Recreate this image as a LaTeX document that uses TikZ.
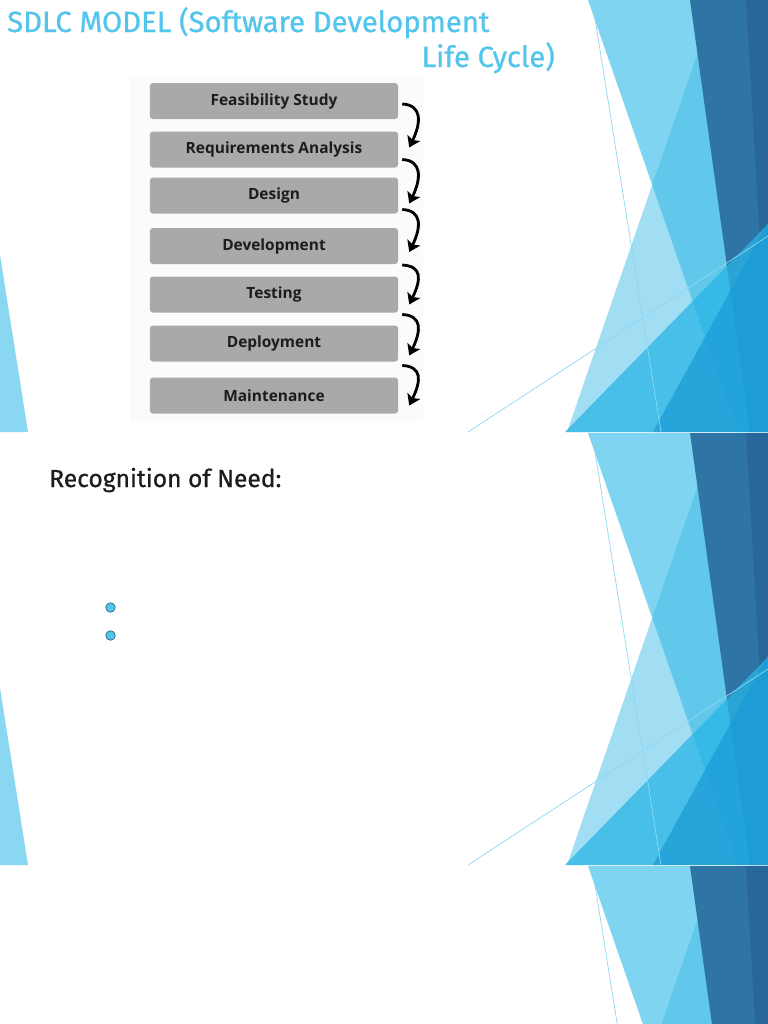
\documentclass[tikz,border=0pt]{standalone}
\usepackage{fontspec}
\setmainfont{Open Sans}
\newfontfamily\headfont[FakeBold=0.7]{Fira Sans}
\usetikzlibrary{arrows.meta}
\definecolor{titleblue}{HTML}{52C5EC}
\definecolor{boxgray}{HTML}{A9A9A9}
\definecolor{inkdark}{HTML}{1C1C1C}
\definecolor{leftblue}{HTML}{8AD7F2}
\definecolor{lightblue}{HTML}{7FD4F1}
\definecolor{paleblue}{HTML}{45BDE8}
\definecolor{darkblue}{HTML}{2E75A6}
\definecolor{deepblue}{HTML}{29679A}
\definecolor{brightblue}{HTML}{29B5E6}
\definecolor{seablue}{HTML}{1A9AD6}
\definecolor{lineblue}{HTML}{8FD8F2}
\definecolor{dotedge}{HTML}{1F4E6E}
\begin{document}
\begin{tikzpicture}[x=0.03cm,y=-0.03cm,
  stage/.style={fill=boxgray,rounded corners=2.5pt,minimum width=7.44cm,
    minimum height=1.08cm,inner sep=0pt,text=inkdark,
    font=\bfseries\fontsize{13.2}{15}\selectfont},
  flow/.style={line width=2.4pt,-{Stealth[length=9pt,width=12pt,inset=2pt]}},
  dot/.style={circle,draw=dotedge,fill=titleblue,line width=0.5pt,
    minimum size=0.285cm,inner sep=0pt},
  heading/.style={inner sep=0pt,font=\headfont\fontsize{#1}{#1}\selectfont},
  thinline/.style={lineblue,line width=0.6pt}]
% pixel grid 768 x 1024, y downwards
\def\facets#1{%
 \begin{scope}[shift={(0,#1)}]
 \clip (0,0) rectangle (768,432);
 \fill[leftblue] (0,255) -- (28,432) -- (0,432) -- cycle;
 \fill[lightblue] (588,0) -- (700,0) -- (750,432) -- (738,432) -- cycle;
 \fill[paleblue,opacity=.5] (716,0) -- (567,432) -- (768,432) -- cycle;
 \fill[darkblue] (690,0) -- (768,0) -- (768,432) -- (750,432) -- cycle;
 \fill[deepblue] (746,0) -- (768,0) -- (768,260) -- (761,260) -- cycle;
 \fill[brightblue,opacity=.75] (565,432) -- (768,224) -- (768,432) -- cycle;
 \fill[seablue,opacity=.7] (653,432) -- (768,222) -- (768,432) -- cycle;
 \draw[thinline] (592,0) -- (661,432);
 \draw[thinline] (468,432) -- (768,236);
 \end{scope}}
\fill[white] (0,0) rectangle (768,1024);
\useasboundingbox (0,0) rectangle (768,1024);
\facets{0}
\facets{433}
\facets{866}
\node[heading=25,anchor=base west,text=titleblue]
 (title1) at (7,32) {SDLC MODEL (Software Development};
\node[heading=25,anchor=base east,text=titleblue]
 (title2) at (555,67) {Life Cycle)};
\fill[gray!3] (130,78) rectangle (423,422);
\node[stage] (feas) at (274,101) {Feasibility Study};
\node[stage] (req) at (274,149.5) {Requirements Analysis};
\node[stage] (des) at (274,195.5) {Design};
\node[stage] (dev) at (274,246) {Development};
\node[stage] (test) at (274,294.5) {Testing};
\node[stage] (dep) at (274,343.5) {Deployment};
\node[stage] (maint) at (274,395.5) {Maintenance};
\foreach \a/\b/\s/\e in {feas/req/3/-2,req/des/10/8,des/dev/14/6,
  dev/test/19/10,test/dep/20/12,dep/maint/22/10}
  \draw[flow] ([shift={(4,\s)}]\a.east) .. controls +(20,1) and +(12,-25)
   .. ([shift={(11,\e)}]\b.east);
\node[heading=21,anchor=base west,text=inkdark]
 (need) at (49,487) {Recognition of Need:};
\node[dot] (b1) at (110.5,607.5) {};
\node[dot] (b2) at (110.5,635.5) {};
\end{tikzpicture}
\end{document}
